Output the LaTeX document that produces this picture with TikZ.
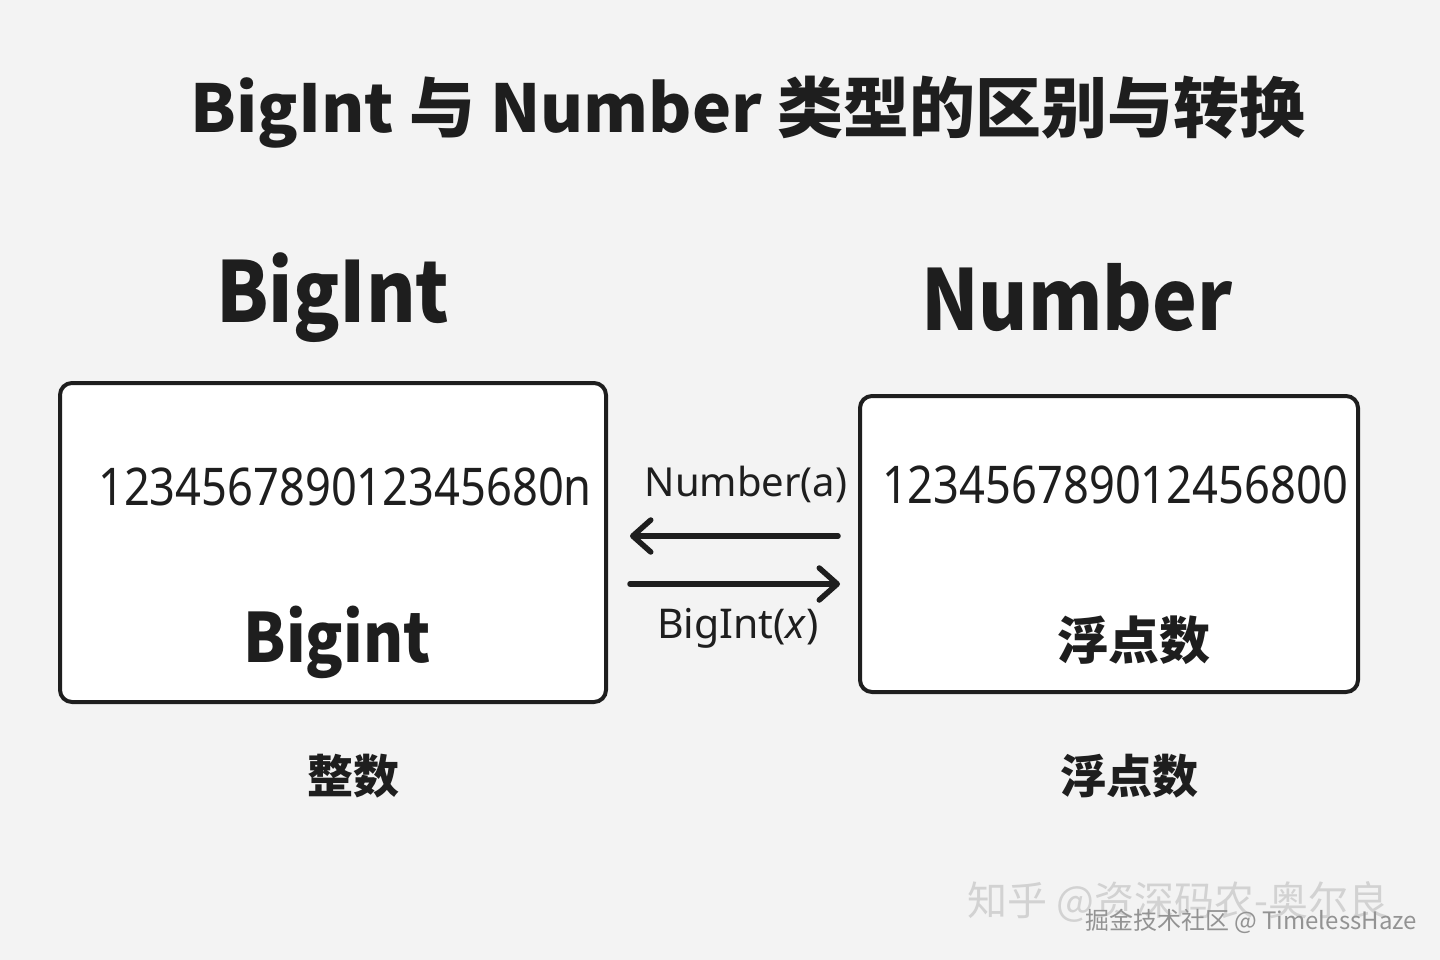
\documentclass[tikz,border=0pt]{standalone}
\usepackage{fontspec}
\setmainfont{Noto Sans CJK SC}
\newfontfamily\headfont{Noto Sans CJK SC}[FakeStretch=0.9]
\newfontfamily\numfont{Noto Sans}[FakeStretch=0.87]
\newfontfamily\latfont{Noto Sans}
\usepackage{tikz}
\usetikzlibrary{arrows.meta}

\definecolor{paper}{HTML}{F3F3F3}
\definecolor{ink}{HTML}{1E1E1E}
\definecolor{mark}{HTML}{D2D2D2}

\tikzset{
  typebox/.style={draw=ink,line width=4pt,rounded corners=12pt,fill=white,inner sep=0pt},
  conv/.style={draw=ink,line width=5.5pt,line cap=round,-{Straight Barb[length=18pt,width=32pt,line width=5.5pt,round]}},
}

\begin{document}
\begin{tikzpicture}[x=1pt,y=-1pt,every node/.style={text=ink}]
   \fill[paper] (0,0) rectangle (1440,960);
   \useasboundingbox (0,0) rectangle (1440,960);

   % title and headings
   \draw (748,112) node (title) {\fontsize{66}{78}\selectfont\bfseries BigInt 与 Number 类型的区别与转换};
   \draw (333,298) node (bighead) {\fontsize{84}{96}\selectfont\headfont\bfseries BigInt};
   \draw (1077,298) node (numhead) {\fontsize{84}{96}\selectfont\headfont\bfseries Number};

   % the two boxes
   \draw (333,542.5) node[typebox,minimum width=546pt,minimum height=319pt] (bigbox) {};
   \draw (1109,544) node[typebox,minimum width=498pt,minimum height=296pt] (numbox) {};

   \draw (345,487) node (bigval) {\fontsize{52}{60}\selectfont\numfont 123456789012345680n};
   \draw (1115,485) node (numval) {\fontsize{52}{60}\selectfont\numfont 123456789012456800};
   \draw (337,642) node (bigkind) {\fontsize{68}{78}\selectfont\headfont\bfseries Bigint};
   \draw (1134,640) node (numkind) {\fontsize{51}{60}\selectfont\bfseries 浮点数};

   % captions under the boxes
   \draw (353,776) node (bigcap) {\fontsize{46}{54}\selectfont\bfseries 整数};
   \draw (1129,776) node (numcap) {\fontsize{46}{54}\selectfont\bfseries 浮点数};

   % conversions
   \coordinate (toBigA) at (838,536);
   \coordinate (toBigB) at (630,536);
   \coordinate (toNumA) at (630,584);
   \coordinate (toNumB) at (840,584);
   \path[conv] (toBigA) -- (toBigB);
   \path[conv] (toNumA) -- (toNumB);
   \draw (746,484) node (numconv) {\fontsize{40}{48}\selectfont\latfont Number(a)};
   \draw (738,628) node (bigconv) {\fontsize{41}{48}\selectfont\latfont BigInt(\textit{x})};

   % watermarks
   \draw (1178,902) node[text=mark] (zhihu) {\fontsize{40}{46}\selectfont 知乎 @资深码农-奥尔良};
   \draw (1251,921) node[text=mark!70!black] (juejin) {\fontsize{24}{28}\selectfont 掘金技术社区 @ TimelessHaze};
\end{tikzpicture}
\end{document}
